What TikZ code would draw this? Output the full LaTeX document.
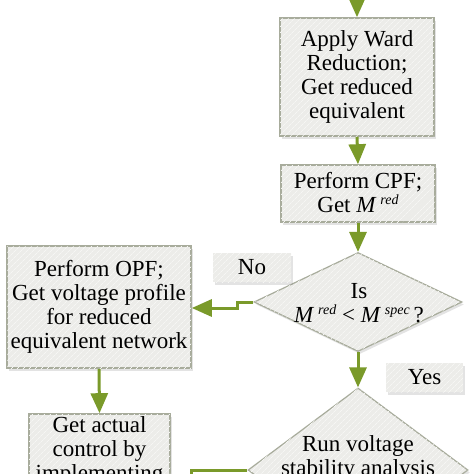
\documentclass[tikz,border=0pt]{standalone}
\usepackage{fontspec}
\setmainfont{Liberation Serif}
\usetikzlibrary{shapes.geometric,arrows.meta,shadows,patterns.meta}
\definecolor{arrgreen}{RGB}{122,154,42}
\definecolor{boxborder}{RGB}{168,172,156}
\definecolor{boxfill}{RGB}{236,236,233}
\definecolor{stripe}{RGB}{246,246,244}
\tikzset{
  procbox/.style={draw=boxborder, line width=1.6pt, fill=boxfill,
    postaction={pattern={Lines[angle=45,distance=4pt,line width=0.7pt]}, pattern color=stripe},
    drop shadow={shadow xshift=2pt,shadow yshift=-2.5pt,opacity=0.22},
    align=center, inner sep=0pt,
    font=\fontsize{23}{24}\selectfont},
  decision/.style={procbox, shape=diamond, inner sep=0pt, line width=1.2pt},
  lbl/.style={fill=boxfill, draw=none,
    postaction={pattern={Lines[angle=45,distance=4pt,line width=0.7pt]}, pattern color=stripe},
    drop shadow={shadow xshift=2pt,shadow yshift=-2.5pt,opacity=0.22},
    inner sep=0pt, font=\fontsize{23}{24}\selectfont},
  txt/.style={align=center, inner sep=0pt, font=\fontsize{23}{24}\selectfont},
  arr/.style={draw=arrgreen, line width=3pt, -{Triangle[width=17pt,length=20pt]}, arrgreen},
  ln/.style={draw=arrgreen, line width=3pt}
}
\newcommand{\supit}[1]{\raisebox{8pt}{\fontsize{14}{14}\selectfont\itshape #1}}
\newcommand{\Mred}{\textit{M}\,\supit{red}}
\newcommand{\Mspec}{\textit{M}\,\supit{spec}}
\begin{document}
\begin{tikzpicture}[x=1pt,y=1pt]
\useasboundingbox (0,0) rectangle (474,-474);
\clip (0,0) rectangle (474,-474);
\fill[white] (0,0) rectangle (474,-474);

\node[procbox, minimum width=154pt, minimum height=118pt] (ward) at (357,-77)
  {Apply Ward\\Reduction;\\Get reduced\\equivalent};
\node[procbox, minimum width=154pt, minimum height=57pt] (cpf) at (358,-193.5) {};
\node[txt] (cpft) at (358,-193) {Perform CPF;\\Get \Mred};
\node[decision, minimum width=208pt, minimum height=99pt] (d1) at (358,-302) {};
\node[txt] (d1t) at (359,-303) {Is\\\Mred{} < \Mspec\,?};
\node[lbl, minimum width=78pt, minimum height=29pt] (no) at (252,-267.5) {No};
\node[procbox, minimum width=184pt, minimum height=122pt] (opf) at (99,-307)
  {Perform OPF;\\Get voltage profile\\for reduced\\equivalent network};
\node[lbl, minimum width=77pt, minimum height=29pt] (yes) at (424.5,-377.5) {Yes};
\node[decision, minimum width=220pt, minimum height=164pt] (d2) at (358,-470) {};
\node[txt, anchor=north] (d2t) at (358,-435) {Run voltage\\stability analysis};
\node[procbox, minimum width=141pt, minimum height=110pt] (act) at (99.5,-469) {};
\node[txt, anchor=north] (actt) at (99.5,-416) {Get actual\\control by\\implementing};

\coordinate (top) at (357,10);
\coordinate (e1) at (237,-302);
\coordinate (e2) at (237,-308);
\coordinate (b1) at (191,-470);
\coordinate (b2) at (191,-490);

\draw[arr] (top) -- (ward.north);
\draw[arr] (ward.south) -- (cpf.north);
\draw[arr] (cpf.south) -- (d1.north);
\draw[arr] (d1.west) -- (e1) -- (e2) -- (e2 -| opf.east);
\draw[arr] (opf.south) -- (act.north);
\draw[arr] (d1.south) -- (d2.north);
\draw[ln] (d2.west) -- (b1) -- (b2);
\end{tikzpicture}
\end{document}
